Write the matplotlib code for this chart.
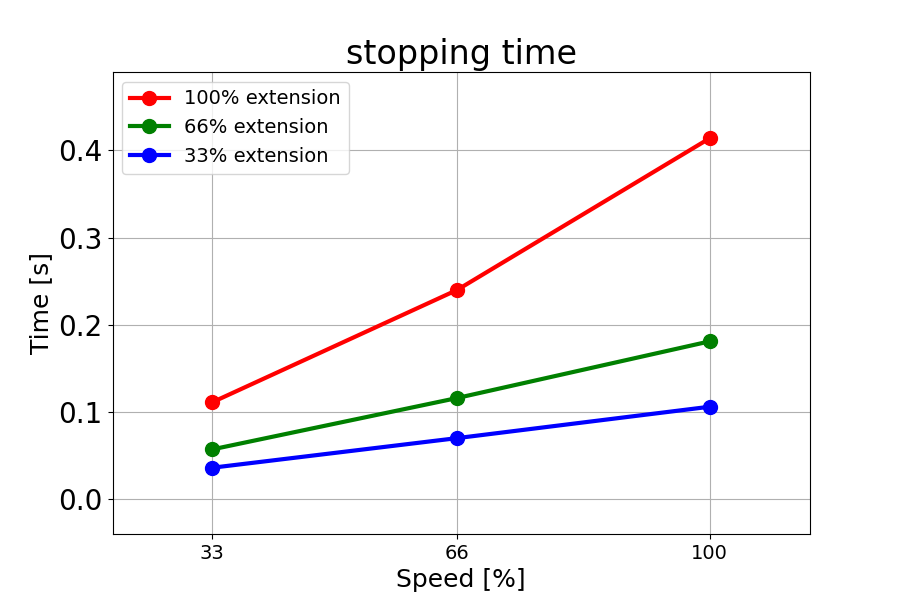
import matplotlib
matplotlib.use("Agg")
import matplotlib.pyplot as plt

speeds = [33, 66, 100]
ext100 = [0.111, 0.240, 0.414]
ext66 = [0.057, 0.116, 0.181]
ext33 = [0.036, 0.070, 0.106]

fig, ax = plt.subplots(figsize=(9, 6), dpi=100)
ax.plot(speeds, ext100, "o-", color="red", linewidth=3, markersize=10, label="100% extension")
ax.plot(speeds, ext66, "o-", color="green", linewidth=3, markersize=10, label="66% extension")
ax.plot(speeds, ext33, "o-", color="blue", linewidth=3, markersize=10, label="33% extension")

ax.set_title("stopping time", fontsize=24)
ax.set_xlabel("Speed [%]", fontsize=18)
ax.set_ylabel("Time [s]", fontsize=18)
ax.set_xticks(speeds)
ax.tick_params(axis="x", labelsize=14)
ax.tick_params(axis="y", labelsize=20)
ax.set_xlim(19.6, 113.5)
ax.set_ylim(-0.04, 0.49)
ax.grid(True)
ax.legend(loc="upper left", fontsize=14)

fig.savefig("out.png")
